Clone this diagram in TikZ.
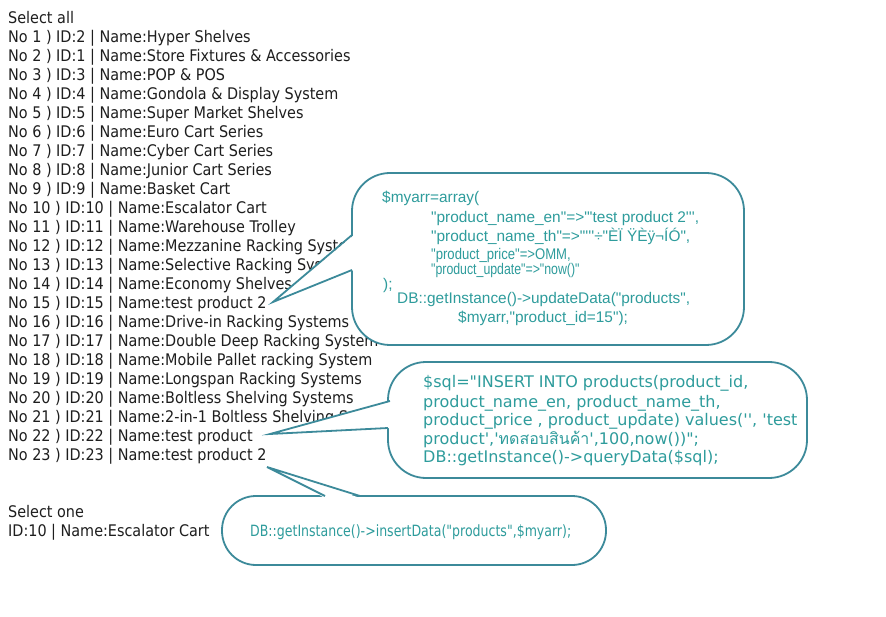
\documentclass[tikz,border=0pt]{standalone}
\usepackage{fontspec}
\setmainfont{DejaVu Sans Condensed}[Ligatures=TeXOff]
\newfontfamily\arialf{Liberation Sans}[Ligatures=TeXOff]
\newfontfamily\dvsans{DejaVu Sans}[Ligatures=TeXOff]
\newfontfamily\thaifont[Script=Thai]{Loma}
\definecolor{costroke}{HTML}{3C8A9A}
\definecolor{cotext}{HTML}{2E9C9C}
\definecolor{lsttext}{HTML}{1E1E1E}
\tikzset{
  lst/.style={anchor=base west, inner sep=0pt, font=\fontsize{16}{18}\selectfont, text=lsttext},
  cobox/.style={draw=costroke, line width=1.8pt, fill=white, rounded corners=38pt},
  cotail/.style={draw=costroke, line width=1.8pt, line join=miter},
  cotxt/.style={anchor=base west, inner sep=0pt, text=cotext},
  artxt/.style={cotxt, font=\arialf\fontsize{15.4}{17}\selectfont},
  tatxt/.style={cotxt, font=\dvsans\fontsize{16}{18}\selectfont},
  tctxt/.style={cotxt, font=\fontsize{15.5}{17}\selectfont},
}
\begin{document}
\begin{tikzpicture}[x=1pt,y=-1pt]
\useasboundingbox[fill=white] (0,0) rectangle (886,617);
% list
\node[lst] (l0) at (8,23.5) {Select all};
\foreach \i/\id/\nm in {
 1/2/Hyper Shelves,
 2/1/Store Fixtures \& Accessories,
 3/3/POP \& POS,
 4/4/Gondola \& Display System,
 5/5/Super Market Shelves,
 6/6/Euro Cart Series,
 7/7/Cyber Cart Series,
 8/8/Junior Cart Series,
 9/9/Basket Cart,
 10/10/Escalator Cart,
 11/11/Warehouse Trolley,
 12/12/Mezzanine Racking Systems,
 13/13/Selective Racking Systems,
 14/14/Economy Shelves,
 15/15/test product 2,
 16/16/Drive-in Racking Systems,
 17/17/Double Deep Racking System,
 18/18/Mobile Pallet racking System,
 19/19/Longspan Racking Systems,
 20/20/Boltless Shelving Systems,
 21/21/2-in-1 Boltless Shelving Systems,
 22/22/test product,
 23/23/test product 2}
 \node[lst] (l\i) at (8,{23.5+19*\i}) {No \i\ ) ID:\id\ | Name:\nm};
\node[lst] (s1) at (8,517.5) {Select one};
\node[lst] (s2) at (8,536.5) {ID:10 | Name:Escalator Cart};

% tail tips
\coordinate (t15) at (273,302);
\coordinate (t22) at (270,434);
\coordinate (t23) at (267,467);

% callout 1
\draw[cobox] (352,173) rectangle (744,345);
\coordinate (a1) at (352,235);
\coordinate (b1) at (352,270);
\fill[white] ([xshift=2pt]a1) -- (t15) -- ([xshift=2pt]b1) -- cycle;
\draw[cotail] (a1) -- (t15) -- (b1);
\node[artxt] (c1a) at (382,203) {\$myarr=array(};
\node[artxt] (c1b) at (431,223) {"product\_name\_en"=>"'test product 2''',};
\node[artxt] (c1c) at (431,242) {"product\_name\_th"=>"'''÷"ÈÏ ŸÈÿ¬ÍÓ",};
\node[artxt] (c1d) at (431,260) {\scalebox{0.85}[1]{"product\_price"=>OMM,}};
\node[artxt] (c1e) at (431,275) {\scalebox{0.8}[1]{"product\_update"=>"now()"}};
\node[artxt] (c1f) at (383,290) {);};
\node[artxt] (c1g) at (397,303.5) {DB::getInstance()->updateData("products",};
\node[artxt] (c1h) at (458,322.5) {\$myarr,"product\_id=15");};

% callout 2
\draw[cobox] (388,362) rectangle (807,478);
\coordinate (a2) at (390,401);
\coordinate (b2) at (388,428);
\fill[white] ([xshift=2pt]a2) -- (t22) -- ([xshift=2pt]b2) -- cycle;
\draw[cotail] (a2) -- (t22) -- (b2);
\node[tatxt] (c2a) at (423,388) {\$sql="INSERT INTO products(product\_id,};
\node[tatxt] (c2b) at (423,407) {product\_name\_en, product\_name\_th,};
\node[tatxt] (c2c) at (423,425.5) {product\_price , product\_update) values('', 'test};
\node[tatxt] (c2d) at (423,444) {product','{\thaifont ทดสอบสินค้า}',100,now())";};
\node[tatxt] (c2e) at (423,462.5) {DB::getInstance()->queryData(\$sql);};

% callout 3
\draw[cobox, rounded corners=34pt] (222,496) rectangle (606,565);
\coordinate (a3) at (325,496);
\coordinate (b3) at (360,496);
\fill[white] ([yshift=-2pt]a3) -- (t23) -- ([yshift=-2pt]b3) -- cycle;
\draw[cotail] (a3) -- (t23) -- (b3);
\node[tctxt] (c3) at (250,536.5) {\scalebox{0.9}[1]{DB::getInstance()->insertData("products",\$myarr);}};
\end{tikzpicture}
\end{document}
